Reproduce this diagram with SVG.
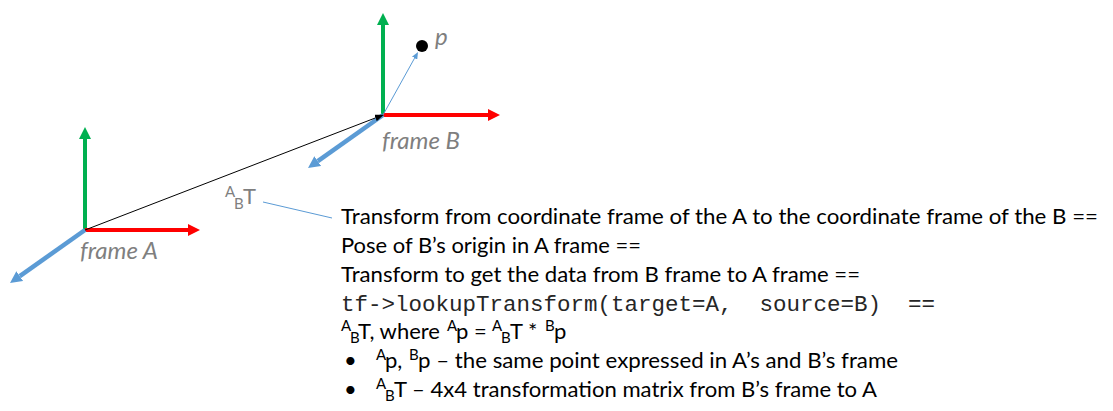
<svg xmlns="http://www.w3.org/2000/svg" width="1113" height="411" viewBox="0 0 1113 411">
<style>
.t{font-family:Lato,"Liberation Sans",sans-serif;font-size:22px;fill:#000}
.s{font-size:15px}
.m{font-family:"Liberation Mono","Courier New",monospace;font-size:22.5px;fill:#262626}
.lbl{font-family:Lato,"Liberation Sans",sans-serif;font-size:24px;font-style:italic;fill:#7f7f7f}
.g{stroke:#00b050;stroke-width:4;fill:none}
.r{stroke:#ff0000;stroke-width:4;fill:none}
.b{stroke:#5b9bd5;stroke-width:4.5;fill:none}
</style>
<defs>
<marker id="hG" markerUnits="userSpaceOnUse" markerWidth="12" markerHeight="12" viewBox="0 0 12 12" refX="0" refY="6" orient="auto"><path d="M0,0 L12,6 L0,12 z" fill="#00b050"/></marker>
<marker id="hR" markerUnits="userSpaceOnUse" markerWidth="12" markerHeight="12" viewBox="0 0 12 12" refX="0" refY="6" orient="auto"><path d="M0,0 L12,6 L0,12 z" fill="#ff0000"/></marker>
<marker id="hB" markerUnits="userSpaceOnUse" markerWidth="12" markerHeight="12" viewBox="0 0 12 12" refX="0" refY="6" orient="auto"><path d="M0,0 L12,6 L0,12 z" fill="#5b9bd5"/></marker>
<marker id="hK" markerUnits="userSpaceOnUse" markerWidth="9" markerHeight="7" viewBox="0 0 9 7" refX="0" refY="3.5" orient="auto"><path d="M0,0 L9,3.5 L0,7 z" fill="#000"/></marker>
<marker id="hb" markerUnits="userSpaceOnUse" markerWidth="7" markerHeight="6" viewBox="0 0 7 6" refX="0" refY="3" orient="auto"><path d="M0,0 L7,3 L0,6 z" fill="#5b9bd5"/></marker>
</defs>

<g id="frameA">
<line class="g" x1="85" y1="230" x2="85" y2="139" marker-end="url(#hG)"/>
<line class="r" x1="85" y1="230" x2="188" y2="230" marker-end="url(#hR)"/>
<line class="b" x1="85" y1="230" x2="19.8" y2="276.1" marker-end="url(#hB)"/>
<text class="lbl" x="80" y="259">frame A</text>
</g>

<g id="frameB">
<line class="g" x1="383" y1="115" x2="383" y2="25" marker-end="url(#hG)"/>
<line class="r" x1="383" y1="115" x2="488" y2="115" marker-end="url(#hR)"/>
<line class="b" x1="383" y1="115" x2="317.8" y2="161.1" marker-end="url(#hB)"/>
<text class="lbl" x="382" y="149">frame B</text>
</g>

<g id="pointP">
<circle cx="422" cy="46" r="6" fill="#000"/>
<text class="lbl" x="435" y="45">p</text>
</g>

<g id="labelT">
<text class="t" style="fill:#7f7f7f"><tspan x="225" y="197" class="s">A</tspan><tspan x="234" y="209" class="s">B</tspan><tspan x="243" y="204">T</tspan></text>
</g>

<g id="connectors">
<line x1="85" y1="230" x2="375.5" y2="117.9" stroke="#000" stroke-width="1" marker-end="url(#hK)"/>
<line x1="383" y1="115" x2="414.6" y2="58.1" stroke="#5b9bd5" stroke-width="1" marker-end="url(#hb)"/>
<line x1="263" y1="202" x2="332" y2="218" stroke="#5b9bd5" stroke-width="1"/>
</g>

<g id="description">
<text class="t" x="341" y="224" textLength="757" lengthAdjust="spacingAndGlyphs">Transform from coordinate frame of the A to the coordinate frame of the B ==</text>
<text class="t" x="341" y="253" textLength="300" lengthAdjust="spacingAndGlyphs">Pose of B’s origin in A frame ==</text>
<text class="t" x="341" y="282" textLength="519" lengthAdjust="spacingAndGlyphs">Transform to get the data from B frame to A frame ==</text>
<text class="m" x="341" y="311" textLength="594" lengthAdjust="spacingAndGlyphs" xml:space="preserve">tf-&gt;lookupTransform(target=A,  source=B)  ==</text>
<text class="t"><tspan x="341" y="331" class="s">A</tspan><tspan x="350" y="343" class="s">B</tspan><tspan x="358" y="339">T, where </tspan><tspan x="447" y="331" class="s">A</tspan><tspan x="456" y="339">p = </tspan><tspan x="492" y="331" class="s">A</tspan><tspan x="501" y="343" class="s">B</tspan><tspan x="510" y="339">T * </tspan><tspan x="545" y="331" class="s">B</tspan><tspan x="554" y="339">p</tspan></text>
<text class="t"><tspan x="344" y="368">•</tspan><tspan x="376" y="360" class="s">A</tspan><tspan x="385" y="368">p, </tspan><tspan x="409" y="360" class="s">B</tspan><tspan x="418" y="368" textLength="480" lengthAdjust="spacingAndGlyphs">p – the same point expressed in A’s and B’s frame</tspan></text>
<text class="t"><tspan x="344" y="397">•</tspan><tspan x="376" y="389" class="s">A</tspan><tspan x="385" y="401" class="s">B</tspan><tspan x="394" y="397" textLength="483" lengthAdjust="spacingAndGlyphs">T – 4x4 transformation matrix from B’s frame to A</tspan></text>
</g>
</svg>
